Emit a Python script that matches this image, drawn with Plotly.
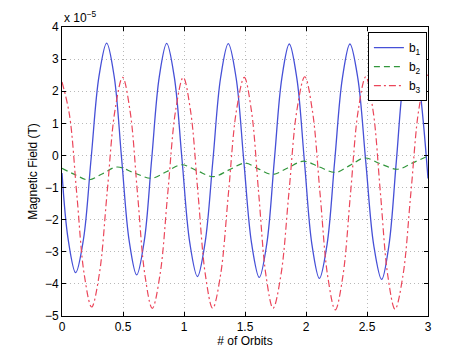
import plotly.graph_objects as go

# ---- data (values in units of 1e-5 T) ----
b1_x = [0.0, 0.05, 0.112,
        0.176, 0.239, 0.303, 0.366,
        0.428, 0.489, 0.551, 0.612,
        0.674, 0.735, 0.797, 0.858,
        0.921, 0.984, 1.047, 1.11,
        1.173, 1.237, 1.300, 1.363,
        1.427, 1.49, 1.554, 1.617,
        1.679, 1.74, 1.802, 1.863,
        1.925, 1.987, 2.048, 2.11,
        2.173, 2.235, 2.298, 2.36,
        2.425, 2.49, 2.555, 2.62,
        2.68, 2.74, 2.80, 2.86,
        2.92, 2.96, 3.0]
b1_y = [-0.55, -2.6, -3.65,
        -2.61, -0.08, 2.46, 3.50,
        2.45, -0.11, -2.67, -3.72,
        -2.67, -0.12, 2.44, 3.49,
        2.43, -0.14, -2.71, -3.77,
        -2.71, -0.15, 2.42, 3.48,
        2.42, -0.16, -2.74, -3.80,
        -2.74, -0.17, 2.41, 3.47,
        2.40, -0.18, -2.76, -3.83,
        -2.76, -0.18, 2.40, 3.47,
        2.40, -0.20, -2.79, -3.86,
        -2.79, -0.20, 2.40, 3.47,
        2.45, 1.10, -0.72]

b2_x = [0.0, 0.108, 0.216, 0.333, 0.45, 0.59, 0.735, 0.86, 0.98, 1.11, 1.24,
        1.37, 1.50, 1.61, 1.725, 1.85, 1.98, 2.11, 2.24, 2.36, 2.48, 2.61,
        2.75, 2.875, 3.0]
b2_y = [-0.40, -0.60, -0.76, -0.57, -0.36, -0.54, -0.71, -0.50, -0.29, -0.48, -0.66,
        -0.45, -0.24, -0.42, -0.59, -0.39, -0.18, -0.36, -0.53, -0.31, -0.08, -0.26,
        -0.43, -0.23, -0.02]

b3_x = [0.0, 0.061, 0.1215, 0.182, 0.243,
        0.3065, 0.37, 0.4335, 0.497,
        0.558, 0.6185, 0.679, 0.74,
        0.8035, 0.867, 0.9305, 0.994,
        1.054, 1.1145, 1.175, 1.235,
        1.30, 1.3645, 1.429, 1.494,
        1.553, 1.612, 1.671, 1.73,
        1.795, 1.86, 1.925, 1.99,
        2.0525, 2.115, 2.1775, 2.24,
        2.3025, 2.365, 2.4275, 2.49,
        2.55, 2.61, 2.67, 2.73,
        2.795, 2.86, 2.925, 2.99, 3.0]
b3_y = [2.29, 1.27, -1.22, -3.70, -4.72,
        -3.68, -1.15, 1.39, 2.43,
        1.38, -1.17, -3.71, -4.76,
        -3.71, -1.17, 1.38, 2.43,
        1.38, -1.17, -3.71, -4.76,
        -3.71, -1.17, 1.38, 2.43,
        1.38, -1.17, -3.71, -4.76,
        -3.71, -1.16, 1.40, 2.45,
        1.39, -1.18, -3.75, -4.81,
        -3.75, -1.18, 1.39, 2.45,
        1.39, -1.17, -3.73, -4.79,
        -3.73, -1.15, 1.44, 2.50, 2.49]

x_ticks = [0, 0.5, 1, 1.5, 2, 2.5, 3]
x_labels = ["0", "0.5", "1", "1.5", "2", "2.5", "3"]
y_ticks = [-5, -4, -3, -2, -1, 0, 1, 2, 3, 4]
y_labels = ["\u22125", "\u22124", "\u22123", "\u22122", "\u22121", "0", "1", "2", "3", "4"]

FONT = "Liberation Sans, Arial, Helvetica, sans-serif"

fig = go.Figure()
fig.add_trace(go.Scatter(x=b1_x, y=b1_y, mode="lines", name="b<sub>1</sub>",
                         line=dict(color="rgb(70,80,215)", width=1.3, shape="spline", smoothing=1.0)))
fig.add_trace(go.Scatter(x=b2_x, y=b2_y, mode="lines", name="b<sub>2</sub>",
                         line=dict(color="rgb(50,150,60)", width=1.2, shape="spline", smoothing=1.0,
                                   dash="6px,4px")))
fig.add_trace(go.Scatter(x=b3_x, y=b3_y, mode="lines", name="b<sub>3</sub>",
                         line=dict(color="rgb(235,70,90)", width=1.2, shape="spline", smoothing=1.0,
                                   dash="7px,3px,2px,3px")))

axis_common = dict(
    showline=True, linecolor="black", linewidth=1, mirror="ticks",
    ticks="inside", ticklen=4, tickcolor="black", automargin=False,
    showgrid=True, gridcolor="rgb(185,185,185)", griddash="1px,3px", gridwidth=1,
    zeroline=False, tickfont=dict(family=FONT, size=12, color="black"),
)

fig.update_xaxes(range=[0, 3], tickvals=x_ticks, ticktext=x_labels,
                 title=dict(text="# of Orbits", font=dict(family=FONT, size=12, color="black"), standoff=2),
                 **axis_common)
fig.update_yaxes(range=[-5, 4], tickvals=y_ticks, ticktext=y_labels,
                 title=dict(text="Magnetic Field (T)", font=dict(family=FONT, size=12, color="black"), standoff=4),
                 **axis_common)

fig.add_annotation(xref="paper", yref="paper", x=0.0, y=1.0, xanchor="left", yanchor="bottom",
                   text="x 10<sup>\u22125</sup>", showarrow=False, yshift=0,
                   font=dict(family=FONT, size=12, color="black"))

# the page places the figure 8px in from the top-left corner; margins account for it
fig.update_layout(
    width=474, height=355,
    margin=dict(l=54, r=54, t=19, b=47, autoexpand=False),
    paper_bgcolor="white", plot_bgcolor="white",
    font=dict(family=FONT, size=12, color="black"),
    legend=dict(x=0.997, y=0.982, xanchor="right", yanchor="top",
                bgcolor="white", bordercolor="black", borderwidth=1,
                font=dict(family=FONT, size=12, color="black"),
                itemwidth=30, tracegroupgap=0),
    showlegend=True,
)

fig.write_html("out.html")
